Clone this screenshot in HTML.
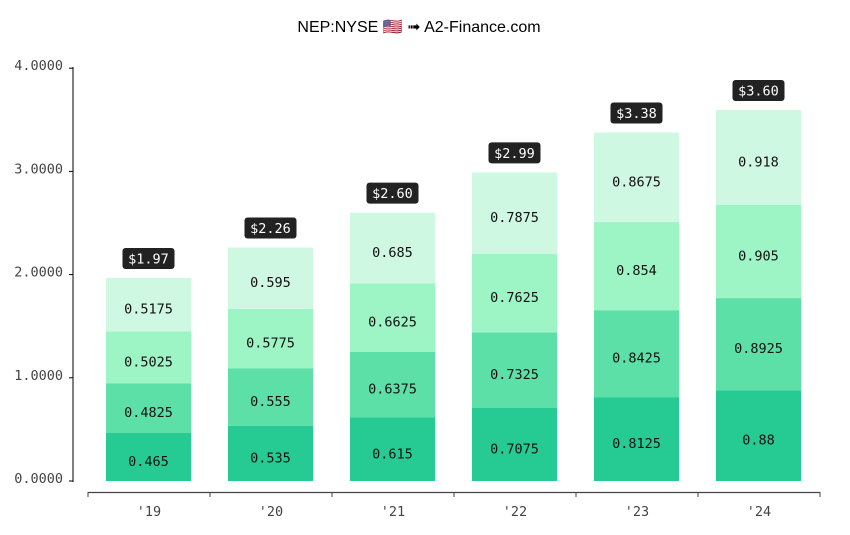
<!DOCTYPE html>
<html><head><meta charset="utf-8"><style>
html,body{margin:0;padding:0;background:#fff;width:850px;height:535px;overflow:hidden}
svg{display:block}
text{font-family:"DejaVu Sans Mono","Liberation Mono",monospace}
</style></head><body>
<svg id="c" width="850" height="535" xmlns="http://www.w3.org/2000/svg">
<text x="419" y="32" text-anchor="middle" style="font-family:'Liberation Sans','DejaVu Sans',sans-serif;font-size:16px" fill="#000">NEP:NYSE 🇺🇸 ➟ A2-Finance.com</text>
<line x1="73" y1="67" x2="73" y2="482" stroke="#000" stroke-width="1"/>
<line x1="88" y1="492.5" x2="820" y2="492.5" stroke="#444" stroke-width="1.2"/>
</svg>
<script>
var s=document.getElementById('c'),ns='http://www.w3.org/2000/svg';
function el(t,a,txt){var e=document.createElementNS(ns,t);for(var k in a)e.setAttribute(k,a[k]);if(txt!=null)e.textContent=txt;s.appendChild(e);return e;}
var y0=481,k=103.2;
for(var i=0;i<=4;i++){var y=y0-i*k;el('line',{x1:69,y1:y,x2:73,y2:y,stroke:'#000'});el('text',{x:63,y:y+2,'text-anchor':'end','font-size':'13.5',fill:'#444'},i.toFixed(4));}
for(var i=0;i<7;i++){var x=88+i*122;el('line',{x1:x,y1:492,x2:x,y2:497,stroke:'#444'});}
var data=[['19',[0.465,0.4825,0.5025,0.5175],'1.97'],['20',[0.535,0.555,0.5775,0.595],'2.26'],['21',[0.615,0.6375,0.6625,0.685],'2.60'],['22',[0.7075,0.7325,0.7625,0.7875],'2.99'],['23',[0.8125,0.8425,0.854,0.8675],'3.38'],['24',[0.88,0.8925,0.905,0.918],'3.60']];
var cols=['#26cb93','#5ce0a8','#9df5c6','#cff8e3'];
data.forEach(function(d,j){var x=106+j*122,cx=x+42.5,cum=0;
 d[1].forEach(function(v,m){var yt=y0-(cum+v)*k,yb=y0-cum*k;el('rect',{x:x,y:yt,width:85,height:yb-yt,fill:cols[m]});
 el('text',{x:cx,y:(yt+yb)/2+9,'text-anchor':'middle','font-size':'13.5',fill:'#111'},String(v));cum+=v;});
 var top=y0-cum*k;var lbl='$'+d[2];
 el('rect',{x:cx-26,y:top-30,width:52,height:21,rx:3,fill:'#222'});
 el('text',{x:cx,y:top-14.5,'text-anchor':'middle','font-size':'13.5',fill:'#fff'},lbl);
 el('text',{x:149+j*122,y:516,'text-anchor':'middle','font-size':'13.5',fill:'#444'},"'"+d[0]);
});
</script>
</body></html>
